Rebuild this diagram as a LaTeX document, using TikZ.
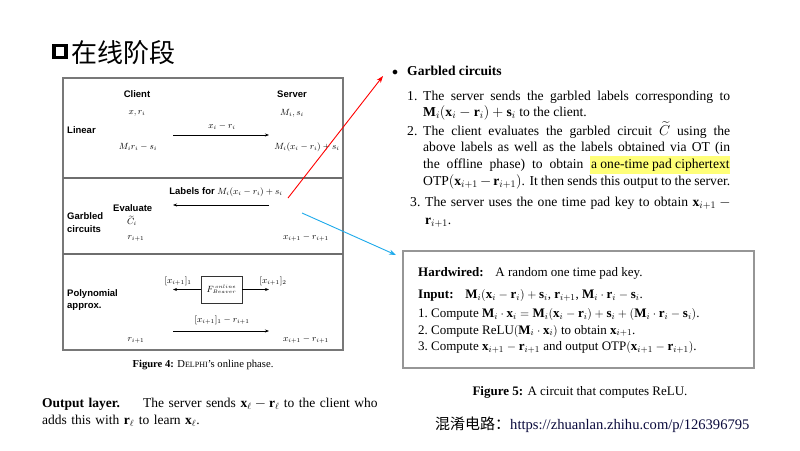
\documentclass[tikz,border=0pt]{standalone}
\usepackage{amsmath,amssymb}
\usepackage{fontspec}
\setmainfont{Liberation Serif}
\setsansfont{Liberation Sans}
\newfontfamily\cjk{Noto Sans CJK SC}
\usetikzlibrary{arrows.meta}
\definecolor{hly}{RGB}{255,255,120}
\definecolor{framegray}{RGB}{120,120,120}
\definecolor{divgray}{RGB}{110,110,110}
\definecolor{hwgray}{RGB}{150,150,150}
\definecolor{urlc}{RGB}{10,10,60}
\definecolor{bluearr}{RGB}{30,170,235}
\tikzset{
  sflab/.style={inner sep=0pt, font=\sffamily\bfseries\fontsize{9.5}{11}\selectfont},
  mlab/.style={inner sep=0pt, font=\fontsize{8.8}{10}\selectfont},
  figarrow/.style={-{Stealth[length=4pt,width=3pt]}, line width=0.6pt},
  divider/.style={draw=divgray, line width=1.4pt},
  para/.style={inner sep=0pt, anchor=base west, text width=307pt, align=justify, font=\fontsize{13.6}{16.8}\selectfont},
  numlab/.style={inner sep=0pt, anchor=base west, font=\fontsize{13.6}{16.8}\selectfont},
  hwtext/.style={inner sep=0pt, anchor=base west, font=\fontsize{13}{15}\selectfont},
}
\begin{document}
\begin{tikzpicture}[x=1pt,y=-1pt]
\useasboundingbox (0,0) rectangle (800,450);
\fill[white] (0,0) rectangle (800,450);

% title
\node[draw=black, line width=3.2pt, minimum width=12pt, minimum height=12pt, inner sep=0pt] (sq) at (60,51.5) {};
\node[anchor=west, inner sep=0pt, font=\cjk\fontsize{26}{30}\selectfont] (title) at (71,53) {在线阶段};

% Figure 4 frame
\node[draw=framegray, line width=1.3pt, minimum width=280pt, minimum height=272pt, inner sep=0pt] (fig4) at (203,214) {};
\draw[divider] (63,178) -- (343,178);
\draw[divider] (63,254) -- (343,254);

% Linear
\node[sflab] (client) at (137,94) {Client};
\node[sflab] (server) at (292,94) {Server};
\node[mlab] (xr) at (137,113) {$x, r_i$};
\node[mlab] (ms) at (292,113) {$M_i, s_i$};
\node[sflab, anchor=west] (linear) at (67,130) {Linear};
\node[mlab] (xmr) at (222,126) {$x_i - r_i$};
\coordinate (a1s) at (173,135);
\coordinate (a1e) at (269,135);
\draw[figarrow] (a1s) -- (a1e);
\node[mlab] (mrs) at (138,147) {$M_i r_i - s_i$};
\node[mlab] (mxrs) at (307,147) {$M_i(x_i - r_i) + s_i$};

% Garbled circuits
\node[sflab] (labels) at (226,192) {Labels for \normalfont\fontsize{8.8}{10}\selectfont$M_i(x_i - r_i) + s_i$};
\coordinate (a2s) at (269,205);
\coordinate (a2e) at (173,205);
\draw[figarrow] (a2s) -- (a2e);
\node[sflab, anchor=west] (evaluate) at (113,208) {Evaluate};
\node[sflab, anchor=west] (garbled) at (67,216) {Garbled};
\node[sflab, anchor=west] (circuits) at (67,229) {circuits};
\node[mlab] (ct) at (132,221) {$\widetilde{C}_i$};
\node[mlab] (r1) at (136,238) {$r_{i+1}$};
\node[mlab] (xr1) at (306,238) {$x_{i+1} - r_{i+1}$};

% Polynomial approx
\node[mlab] (sh1) at (178,281) {$[x_{i+1}]_1$};
\node[draw=black!80, line width=0.8pt, minimum width=41pt, minimum height=27pt, inner sep=0pt] (beaver) at (221.5,289.5) {\fontsize{9}{10}\selectfont$F^{\,\scriptscriptstyle online}_{\scriptscriptstyle Beaver}$};
\node[mlab] (sh2) at (273,281) {$[x_{i+1}]_2$};
\coordinate (b1e) at (173,289.5);
\coordinate (b2e) at (269,289.5);
\draw[figarrow] (beaver.west) -- (b1e);
\draw[figarrow] (beaver.east) -- (b2e);
\node[sflab, anchor=west] (poly) at (67,294) {Polynomial};
\node[sflab, anchor=west] (approx) at (67,307) {approx.};
\node[mlab] (shr) at (222,320) {$[x_{i+1}]_1 - r_{i+1}$};
\coordinate (a3s) at (173,331);
\coordinate (a3e) at (269,331);
\draw[figarrow] (a3s) -- (a3e);
\node[mlab] (r2) at (136,340) {$r_{i+1}$};
\node[mlab] (xr2) at (306,340) {$x_{i+1} - r_{i+1}$};

% caption fig 4
\node[inner sep=0pt, font=\fontsize{10.6}{12}\selectfont] (cap4) at (203,365) {\textbf{Figure 4:} D{\fontsize{8}{9}\selectfont ELPHI}'s online phase.};

% Output layer
\node[inner sep=0pt, anchor=base west, text width=370pt, align=left, font=\fontsize{13.5}{17}\selectfont] (outl) at (42,407.5)
  {\textbf{Output layer.}\hspace{1.2em} The server sends $\mathbf{x}_\ell - \mathbf{r}_\ell$ to the client who\\
   adds this with $\mathbf{r}_\ell$ to learn $\mathbf{x}_\ell$.};

% right column
\node[inner sep=0pt, anchor=base, font=\fontsize{13}{16}\selectfont] (bul) at (395,75) {$\bullet$};
\node[numlab] (gch) at (407,75) {\textbf{Garbled circuits}};
\node[numlab] (n1) at (407,100) {1.};
\node[para] (p1) at (423,100) {The server sends the garbled labels corresponding to\linebreak
  $\mathbf{M}_i(\mathbf{x}_i - \mathbf{r}_i) + \mathbf{s}_i$ to the client.};
\node[numlab] (n2) at (407,135) {2.};
\node[para] (p2) at (423,135) {The client evaluates the garbled circuit $\widetilde{C}$ using the\linebreak
  above labels as well as the labels obtained via OT (in\linebreak
  the offline phase) to obtain {\setlength{\fboxsep}{0.6pt}\colorbox{hly}{\strut a one-time pad ciphertext}}\linebreak
  OTP$(\mathbf{x}_{i+1} - \mathbf{r}_{i+1})$. It then sends this output to the server.};
\node[numlab] (n3) at (410,206) {3.};
\node[para, align=left, text width=330pt] (p3) at (425,206) {The server uses the one time pad key to obtain $\mathbf{x}_{i+1} -{}$\\[1.5pt]
  $\mathbf{r}_{i+1}$.};

% Hardwired box
\node[draw=hwgray, line width=1.3pt, minimum width=351pt, minimum height=117pt, inner sep=0pt] (hw) at (578.5,309.5) {};
\node[hwtext] (hwl) at (418,276) {\textbf{Hardwired:}\hspace{0.9em}A random one time pad key.};
\node[hwtext] (inl) at (418,298.5) {\textbf{Input:}\hspace{0.9em}$\mathbf{M}_i(\mathbf{x}_i - \mathbf{r}_i) + \mathbf{s}_i$, $\mathbf{r}_{i+1}$, $\mathbf{M}_i \cdot \mathbf{r}_i - \mathbf{s}_i$.};
\node[hwtext] (h1) at (418,317.5) {1.\ Compute $\mathbf{M}_i \cdot \mathbf{x}_i = \mathbf{M}_i(\mathbf{x}_i - \mathbf{r}_i) + \mathbf{s}_i + (\mathbf{M}_i \cdot \mathbf{r}_i - \mathbf{s}_i)$.};
\node[hwtext] (h2) at (418,334) {2.\ Compute ReLU$(\mathbf{M}_i \cdot \mathbf{x}_i)$ to obtain $\mathbf{x}_{i+1}$.};
\node[hwtext] (h3) at (418,350.5) {3.\ Compute $\mathbf{x}_{i+1} - \mathbf{r}_{i+1}$ and output OTP$(\mathbf{x}_{i+1} - \mathbf{r}_{i+1})$.};

% caption fig 5
\node[inner sep=0pt, font=\fontsize{13}{15}\selectfont] (cap5) at (580,392) {\textbf{Figure 5:} A circuit that computes ReLU.};

% source line
\node[inner sep=0pt, anchor=west] (src) at (435,425) {{\cjk\fontsize{15}{17}\selectfont 混淆电路：}{\color{urlc}\fontsize{14.6}{16}\selectfont https://zhuanlan.zhihu.com/p/126396795}};

% pointer arrows
\coordinate (rs) at (288,198);
\coordinate (re) at (383,76);
\draw[red, line width=0.9pt, -{Stealth[length=7pt,width=5pt]}] (rs) -- (re);
\coordinate (bs) at (302,213);
\coordinate (be) at (396,255);
\draw[bluearr, line width=0.9pt, -{Stealth[length=7pt,width=5pt]}] (bs) -- (be);
\end{tikzpicture}
\end{document}
